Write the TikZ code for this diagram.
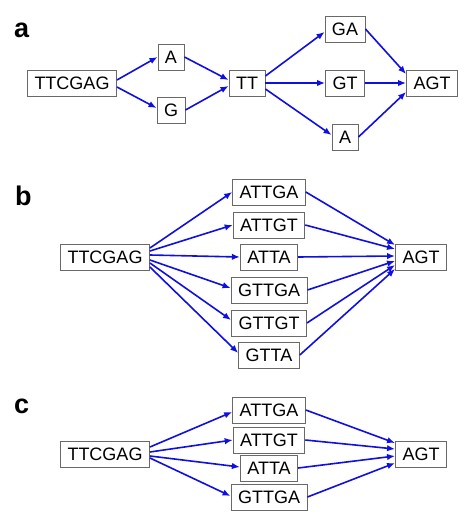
\documentclass[tikz,border=0pt]{standalone}
\usepackage{fontspec}
\setmainfont{Liberation Sans}
\usetikzlibrary{arrows.meta}
\definecolor{edgeblue}{RGB}{15,15,225}
\definecolor{boxgray}{RGB}{105,105,105}
\tikzset{
  kmer/.style={draw=boxgray,line width=0.9pt,minimum height=26pt,inner xsep=7pt,inner ysep=2pt,
    font=\fontsize{18}{20}\selectfont},
  panel/.style={anchor=base west,inner sep=0pt,font=\fontsize{27}{30}\selectfont\bfseries},
  edge/.style={draw=edgeblue,line width=1.6pt,-{Latex[length=8pt,width=6.5pt]}}
}
\begin{document}
\begin{tikzpicture}[x=1pt,y=-1pt]
    \useasboundingbox (0,0) rectangle (474,525);

    % panel a
    \node (la)  [panel] at (14,37)  {a};
    \node (a1)  [kmer]  at (72,83)  {TTCGAG};
    \node (a2)  [kmer]  at (171,57) {A};
    \node (a3)  [kmer]  at (171,110){G};
    \node (a4)  [kmer]  at (247,83) {TT};
    \node (a5)  [kmer]  at (345,29) {GA};
    \node (a6)  [kmer]  at (345,83) {GT};
    \node (a7)  [kmer]  at (345,137){A};
    \node (a8)  [kmer]  at (432,83) {AGT};

    \foreach \from/\to/\ys/\ye in {a1/a2/3/0,a1/a3/-4/2,a2/a4/0/3,a3/a4/0/-3,
        a4/a5/7/-3,a4/a6/0/0,a4/a7/-6/2,a5/a8/0/9,a6/a8/0/0,a7/a8/0/-9}
      \draw[edge] ([yshift=\ys pt]\from.east) -- ([yshift=\ye pt]\to.west);

    % panel b
    \node (lb)  [panel] at (15,205) {b};
    \node (b1)  [kmer]  at (105,257){TTCGAG};
    \node (b2)  [kmer]  at (269,192){ATTGA};
    \node (b3)  [kmer]  at (269,225){ATTGT};
    \node (b4)  [kmer]  at (269,257){ATTA};
    \node (b5)  [kmer]  at (269,290){GTTGA};
    \node (b6)  [kmer]  at (269,323){GTTGT};
    \node (b7)  [kmer]  at (269,355){GTTA};
    \node (b8)  [kmer]  at (421,257){AGT};

    \foreach \mid/\ys/\ye/\yt in {b2/9/0/12,b3/6/0/8,b4/2/0/1,b5/-3/2/-4,b6/-6/3/-8,b7/-10/2/-12}
    {
      \draw[edge] ([yshift=\ys pt]b1.east) -- ([yshift=\ye pt]\mid.west);
      \draw[edge] (\mid.east) -- ([yshift=\yt pt]b8.west);
    }

    % panel c
    \node (lc)  [panel] at (14,413) {c};
    \node (c1)  [kmer]  at (105,454){TTCGAG};
    \node (c2)  [kmer]  at (269,410){ATTGA};
    \node (c3)  [kmer]  at (269,440){ATTGT};
    \node (c4)  [kmer]  at (269,468){ATTA};
    \node (c5)  [kmer]  at (269,497){GTTGA};
    \node (c6)  [kmer]  at (421,454){AGT};

    \foreach \mid/\ys/\ye/\yt in {c2/7/-2/11,c3/2/0/5,c4/-2/1/-2,c5/-4/1/-9}
    {
      \draw[edge] ([yshift=\ys pt]c1.east) -- ([yshift=\ye pt]\mid.west);
      \draw[edge] (\mid.east) -- ([yshift=\yt pt]c6.west);
    }
\end{tikzpicture}
\end{document}
